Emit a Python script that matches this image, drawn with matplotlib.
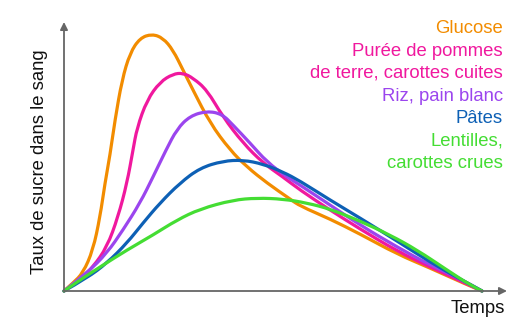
import matplotlib
matplotlib.use("Agg")
import matplotlib.pyplot as plt
from matplotlib.path import Path
from matplotlib.patches import PathPatch

plt.rcParams['font.family'] = ['Liberation Sans', 'DejaVu Sans']

# Arbitrary units: time (x) and blood sugar level (y)
glucose_t = [0, 9, 19, 29, 36, 41, 46, 51, 58, 66, 76, 88, 99, 109, 119, 129, 146, 166, 183, 203, 226, 236, 266, 296, 333, 366, 399, 418]
glucose_y = [0, 8, 18, 41, 74, 108, 136, 171, 211, 238, 253, 257, 253, 241, 221, 201, 168, 141, 124, 108, 92, 85, 72, 57, 37, 23, 8, 0]

puree_t = [0, 16, 29, 43, 54, 63, 69, 73, 83, 96, 109, 119, 129, 143, 159, 179, 199, 219, 236, 266, 296, 333, 366, 399, 418]
puree_y = [0, 11, 24, 44, 74, 108, 141, 163, 191, 209, 217, 218, 213, 201, 174, 148, 128, 114, 101, 81, 62, 40, 24, 9, 0]

riz_t = [0, 23, 43, 59, 76, 89, 102, 113, 126, 143, 158, 169, 186, 203, 223, 236, 266, 296, 333, 366, 399, 418]
riz_y = [0, 18, 38, 61, 88, 114, 141, 162, 175, 180, 177, 166, 148, 129, 114, 106, 86, 66, 44, 26, 11, 0]

pates_t = [0, 23, 43, 63, 79, 96, 116, 136, 159, 179, 199, 219, 236, 266, 296, 333, 366, 396, 418]
pates_y = [0, 13, 28, 48, 68, 88, 108, 123, 130, 131, 127, 119, 110, 91, 73, 50, 29, 12, 0]

lentilles_t = [0, 16, 36, 63, 89, 113, 136, 169, 193, 219, 243, 266, 296, 326, 353, 383, 406, 418]
lentilles_y = [0, 11, 24, 41, 56, 71, 82, 91, 93, 92, 88, 82, 70, 56, 41, 21, 6, 0]

colors = ["#f28c00", "#f0189e", "#9b45ee", "#0d60b5", "#44dd33"]

W, H = 532, 323
fig = plt.figure(figsize=(W / 100, H / 100), dpi=100)
ax = fig.add_axes([64 / W, (H - 291) / H, (507 - 64) / W, (291 - 22) / H])
ax.set_xlim(0, 443)
ax.set_ylim(0, 269)
ax.axis('off')


def smooth_path(t, y):
    """Quadratic Bezier path using the read points as control points."""
    pts = list(zip(t, y))
    verts = [pts[0]]
    codes = [Path.MOVETO]
    for i in range(1, len(pts) - 1):
        if i < len(pts) - 2:
            end = ((pts[i][0] + pts[i + 1][0]) / 2, (pts[i][1] + pts[i + 1][1]) / 2)
        else:
            end = pts[i + 1]
        verts += [pts[i], end]
        codes += [Path.CURVE3, Path.CURVE3]
    return Path(verts, codes)


series = [(glucose_t, glucose_y), (puree_t, puree_y), (riz_t, riz_y),
          (pates_t, pates_y), (lentilles_t, lentilles_y)]
for (t, y), c in zip(series, colors):
    ax.add_patch(PathPatch(smooth_path(t, y), facecolor='none', edgecolor=c, lw=2.3,
                           capstyle='round', joinstyle='round', clip_on=False))

axis_col = "#666666"
ax.annotate("", xy=(443, 0), xytext=(0, 0),
            arrowprops=dict(arrowstyle='-|>', color=axis_col, lw=1.3, mutation_scale=11,
                            shrinkA=0, shrinkB=0), annotation_clip=False)
ax.annotate("", xy=(0, 269), xytext=(0, 0),
            arrowprops=dict(arrowstyle='-|>', color=axis_col, lw=1.3, mutation_scale=11,
                            shrinkA=0, shrinkB=0), annotation_clip=False)

# Legend text block (right aligned, coloured)
lines = [("Glucose", colors[0]),
         ("Purée de pommes", colors[1]),
         ("de terre, carottes cuites", colors[1]),
         ("Riz, pain blanc", colors[2]),
         ("Pâtes", colors[3]),
         ("Lentilles,", colors[4]),
         ("carottes crues", colors[4])]
baselines = [33, 56, 78, 101, 123, 146, 168]
fs = 13.3
for (txt, c), b in zip(lines, baselines):
    fig.text(503 / W, 1 - b / H, txt, color=c, fontsize=fs, ha='right', va='baseline')

fig.text(40 / W, 1 - 162 / H, "Taux de sucre dans le sang", rotation=90,
         fontsize=fs, ha='center', va='center', color='#111111')
fig.text(505 / W, 1 - 313 / H, "Temps", fontsize=fs, ha='right', va='baseline', color='#111111')

fig.savefig("out.png", dpi=100, facecolor='white')
